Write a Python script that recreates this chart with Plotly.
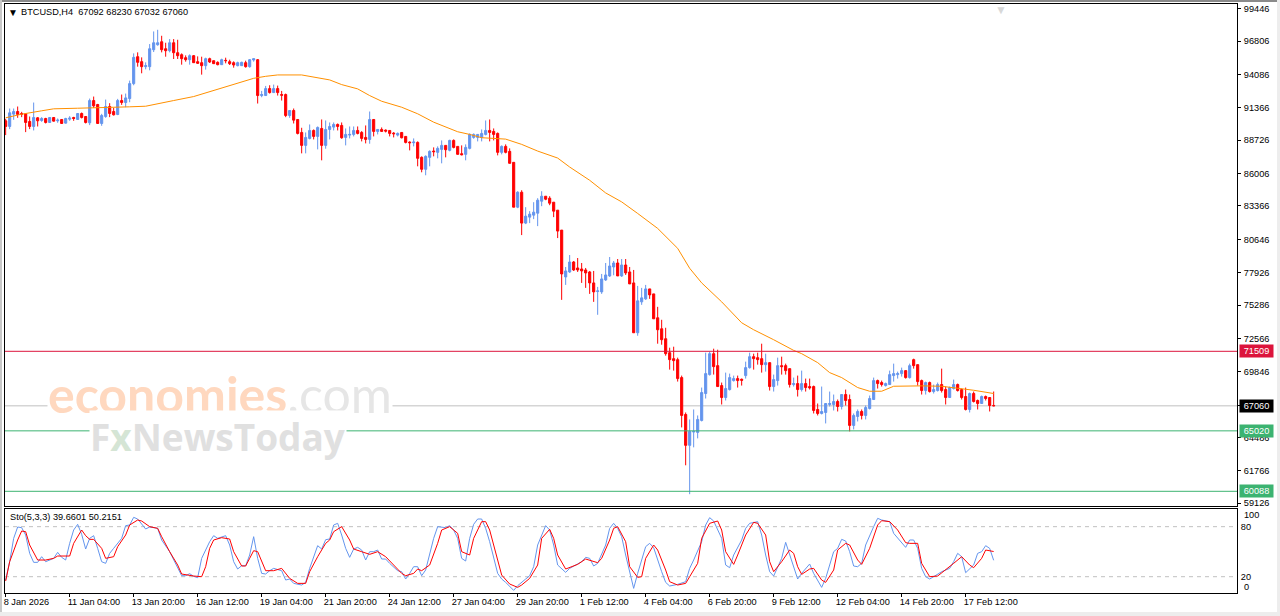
import plotly.graph_objects as go

WIDTH = 1280
HEIGHT = 616

opens = [
    90313, 89852, 90855, 91072, 90909, 90882, 90259, 89852, 90557, 90340,
    90503, 90177, 90584, 90313, 90421, 90123, 90448, 90584, 90421, 90909,
    90665, 90150, 91966, 91641, 90096, 90665, 91478, 91072, 90828, 91966,
    91803, 92129, 93348, 95543, 95137, 94730, 94730, 96112, 96519, 96763,
    96194, 96031, 96681, 95868, 95706, 95462, 95299, 95624, 95137, 95055,
    94811, 95381, 95218, 95082, 94893, 95245, 95137, 95055, 94811, 94811,
    95055, 94730, 95272, 95299, 92373, 92373, 92942, 92616, 92942, 92454,
    92454, 90746, 91153, 90421, 89364, 88308, 88877, 89527, 89039, 89690,
    88308, 89608, 89798, 90015, 89934, 88958, 89148, 89202, 89527, 89364,
    88958, 88795, 90421, 89446, 89608, 89554, 89527, 89310, 89148, 89364,
    89039, 88579, 88524, 88551, 87332, 86356, 87332, 87847, 87738, 87982,
    88308, 87901, 88714, 88226, 87630, 87576, 88064, 88958, 88958, 88958,
    89202, 89527, 89446, 89283, 87738, 88226, 87820, 86925, 83267, 84486,
    81966, 82454, 82617, 82779, 83755, 84161, 83999, 83673, 83023, 81397,
    77576, 77982, 78795, 78308, 78226, 78145, 77982, 77088, 76384, 76356,
    77332, 77657, 78389, 78714, 77657, 78551, 77982, 77088, 73023, 75543,
    75787, 76600, 76194, 74243, 73348, 72535, 71397, 70909, 70828, 69365,
    66357, 63836, 64920, 64893, 65869, 68064, 69609, 71316, 70340, 68714,
    67739, 68389, 69121, 69283, 69229, 69527, 70178, 71072, 70991, 70909,
    70421, 70584, 68633, 69121, 70340, 70340, 70096, 68795, 68877, 68389,
    68877, 68633, 68633, 66763, 66438, 66519, 67170, 67170, 67413, 67007,
    67982, 67576, 65462, 66194, 66600, 66275, 66844, 67576, 69121, 68958,
    68714, 68796, 69527, 69608, 69690, 69934, 69365, 70828, 70421, 69121,
    68308, 68958, 68226, 68308, 68796, 68389, 67739, 68470, 68796, 68389,
    67820, 66763, 68064, 67495, 67251, 67820, 67739, 67092,
]
closes = [
    89852, 90963, 91072, 90828, 90855, 90177, 89852, 90584, 90313, 90503,
    90177, 90584, 90286, 90367, 90096, 90503, 90530, 90503, 90909, 90584,
    90177, 91966, 91532, 90096, 90747, 91478, 90909, 90801, 91966, 91803,
    92183, 93348, 95489, 95082, 94730, 94811, 96194, 96681, 96681, 96112,
    96031, 96681, 95868, 95624, 95381, 95299, 95624, 95055, 95001, 94811,
    95381, 95110, 94974, 94893, 95299, 95218, 94974, 94866, 95055, 95082,
    94730, 95299, 95381, 92373, 92454, 92942, 92616, 92942, 92616, 92400,
    90746, 91153, 90367, 89283, 88308, 88958, 89527, 89039, 89771, 88308,
    89608, 89852, 90015, 89852, 88931, 89202, 89202, 89527, 89283, 88877,
    88795, 90421, 89446, 89608, 89446, 89473, 89283, 89256, 89283, 88931,
    88551, 88524, 88579, 87251, 86356, 87413, 87820, 87793, 88064, 88308,
    87955, 88714, 88145, 87576, 87549, 88145, 89202, 89202, 89202, 89283,
    89527, 89364, 89202, 87738, 88226, 87738, 86844, 83267, 84486, 81966,
    82535, 82698, 82860, 83836, 84161, 83917, 83592, 82942, 81316, 77820,
    78064, 78795, 78145, 78145, 78064, 77901, 77088, 76356, 76438, 77413,
    77739, 78470, 78714, 77657, 78551, 77901, 77007, 73023, 75625, 75869,
    76600, 76112, 74161, 73267, 72454, 71316, 70828, 70747, 69283, 66275,
    63836, 64974, 64974, 65950, 68145, 69690, 71316, 70259, 68633, 67739,
    68470, 69365, 69283, 69121, 69148, 70178, 71072, 70909, 70828, 70421,
    70584, 68633, 69202, 70340, 70259, 69934, 68795, 68877, 68389, 68877,
    68552, 68524, 66682, 66438, 66600, 67251, 67251, 67413, 67007, 67982,
    67495, 65462, 66275, 66600, 66275, 66926, 67657, 69121, 68877, 68796,
    68877, 69608, 69690, 69690, 69934, 69365, 70340, 70340, 69039, 68308,
    68958, 68226, 68389, 68796, 68308, 67739, 68552, 68796, 68308, 67739,
    66763, 68064, 67413, 67251, 67820, 67657, 67088, 67060,
]
highs = [
    90475, 91316, 91316, 91478, 91045, 90936, 90665, 91803, 90611, 90611,
    90557, 90611, 90611, 90503, 90448, 90557, 90692, 90638, 90936, 90990,
    90692, 92129, 92291, 91695, 90882, 92047, 91749, 91370, 92102, 92454,
    92535, 93592, 95814, 95896, 95489, 95082, 96573, 97603, 97738, 97250,
    96681, 96979, 96979, 96925, 95814, 95652, 95733, 95679, 95570, 95543,
    95462, 95462, 95218, 95164, 95381, 95462, 95299, 95164, 95137, 95137,
    95218, 95354, 95381, 95354, 92752, 93158, 93213, 93267, 93185, 92752,
    92535, 91153, 91316, 90448, 89744, 89364, 90015, 89608, 89852, 90421,
    90340, 90177, 90177, 90096, 90177, 89690, 89852, 89852, 89852, 89473,
    89934, 91072, 90421, 89608, 89771, 89608, 89527, 89392, 89364, 89364,
    89039, 88633, 88877, 88633, 87413, 87494, 87901, 88145, 88226, 88714,
    88308, 88768, 88795, 88226, 88308, 88389, 89283, 89283, 89202, 89608,
    90340, 90421, 89690, 89364, 88308, 88389, 88064, 86925, 84568, 84649,
    83267, 82942, 83673, 83999, 84568, 84161, 84161, 83673, 83023, 81397,
    78389, 79364, 78877, 79121, 78714, 78308, 78064, 78064, 76763, 77820,
    78714, 79202, 78877, 79039, 79039, 79039, 78389, 78145, 76844, 76682,
    76925, 76600, 76194, 75137, 74080, 73430, 71804, 71885, 70991, 69527,
    66519, 65950, 66763, 66275, 68552, 71397, 71478, 71722, 71641, 68958,
    69771, 69690, 69527, 69527, 69283, 70665, 71397, 71316, 71397, 72129,
    71316, 70584, 69609, 70991, 71072, 70503, 70096, 69365, 69527, 69934,
    69283, 69283, 68714, 67251, 68633, 67251, 68226, 67982, 67576, 67982,
    68389, 67982, 66438, 66763, 66763, 67088, 67901, 69365, 69202, 69121,
    68958, 69934, 70503, 69852, 70178, 69934, 70503, 70909, 70421, 69202,
    69039, 69039, 68796, 68958, 70096, 68633, 68633, 69202, 68877, 68470,
    68552, 68145, 68226, 67576, 67901, 67901, 67739, 68230,
]
lows = [
    89148, 89635, 90394, 90557, 90611, 89391, 89635, 89527, 89852, 90232,
    90096, 90150, 90259, 90150, 90069, 90096, 90313, 90313, 90394, 90503,
    90096, 89961, 91370, 90069, 89906, 90557, 90611, 90747, 90774, 91614,
    91424, 91830, 93213, 94730, 94188, 94513, 94432, 95923, 96438, 95896,
    95543, 95896, 95354, 95354, 94893, 95137, 94893, 95028, 94947, 94080,
    94486, 95028, 94947, 94839, 94893, 95001, 94866, 94649, 94757, 94784,
    94649, 94649, 95137, 91722, 92237, 92345, 92535, 92589, 92373, 91966,
    90611, 90557, 90096, 89202, 87657, 87657, 88795, 88795, 87982, 87088,
    88036, 88795, 89527, 89527, 88850, 88308, 88877, 89039, 89202, 88633,
    88470, 88443, 89039, 89202, 89419, 89364, 89039, 88958, 89039, 88877,
    88470, 87901, 88226, 86600, 86112, 85869, 86600, 87413, 87251, 86844,
    87332, 87820, 88064, 87576, 87494, 87088, 87982, 88850, 88633, 88633,
    89120, 88633, 88714, 87494, 87576, 87657, 86844, 83267, 83186, 80990,
    81885, 81966, 82291, 81722, 83348, 83836, 83430, 82454, 80747, 75706,
    76925, 77901, 78064, 77982, 77088, 76682, 76194, 75543, 74486, 76194,
    77251, 77576, 77711, 77657, 77576, 77739, 77007, 73023, 72779, 75300,
    75706, 75787, 74161, 72129, 72047, 71153, 70015, 69934, 69040, 65300,
    62210, 59852, 63674, 64405, 65787, 67657, 69527, 69609, 68633, 67170,
    67495, 68308, 69040, 68552, 68714, 69283, 70096, 70015, 70421, 69771,
    69852, 68308, 68226, 68714, 69609, 69609, 68552, 68633, 67820, 68226,
    68226, 68389, 66438, 66275, 66356, 65625, 67007, 66682, 66600, 66763,
    67088, 64974, 65137, 65787, 65950, 65950, 66763, 67576, 68470, 68633,
    68633, 68796, 69039, 69283, 69446, 69283, 69283, 70096, 68714, 67982,
    67982, 68145, 68064, 68226, 68145, 67170, 67739, 68389, 68226, 67576,
    66682, 66519, 67332, 66763, 67251, 67495, 66600, 67032,
]
bars = list(range(len(opens)))

ma_bars = [
    0, 4, 9, 12, 18, 24, 31, 35, 38, 42, 47, 52, 57, 62, 65, 68, 74, 77, 81, 84,
    88, 91, 94, 99, 103, 107, 111, 113, 116, 119, 125, 129, 133, 138, 141, 146,
    150, 154, 158, 163, 168, 171, 174, 179, 184, 187, 192, 197, 199, 203, 206,
    209, 213, 216, 219, 222, 229, 234, 242, 247,
]
ma_values = [
    90559, 90852, 91129, 91291, 91340, 91373, 91454, 91503, 91722, 91966, 92291,
    92779, 93267, 93779, 93942, 94055, 94055, 93893, 93649, 93267, 92917, 92372,
    91909, 91421, 90885, 90202, 89665, 89421, 89202, 88934, 88820, 88389, 87844,
    87275, 86543, 85462, 84429, 83698, 82755, 81535, 79909, 78283, 77090, 75544,
    73836, 73267, 72454, 71584, 71316, 70584, 69771, 69365, 68552, 68251, 68251,
    68657, 68689, 68657, 68332, 68064,
]

sto_main_bars = [
    0, 1, 2, 3, 4, 5, 6, 7, 8, 9, 10, 12, 13, 14, 15, 16, 17, 18, 19, 20, 21, 22,
    23, 24, 25, 26, 27, 29, 30, 31, 32, 33, 35, 36, 38, 39, 41, 43, 44, 45, 46,
    47, 48, 49, 51, 52, 53, 55, 56, 57, 58, 59, 60, 61, 62, 63, 64, 65, 66, 67,
    68, 69, 70, 71, 72, 73, 74, 75, 76, 78, 79, 80, 81, 82, 83, 84, 85, 86, 87,
    88, 89, 90, 91, 92, 93, 94, 95, 96, 98, 99, 100, 101, 102, 103, 104, 105,
    106, 107, 108, 110, 111, 112, 113, 114, 115, 116, 117, 118, 119, 120, 121,
    123, 124, 125, 127, 128, 130, 131, 132, 133, 135, 136, 137, 138, 140, 141,
    144, 145, 146, 147, 148, 150, 151, 152, 153, 154, 155, 156, 157, 158, 159,
    160, 161, 162, 164, 165, 166, 168, 170, 171, 172, 174, 175, 176, 177, 179,
    180, 181, 182, 184, 185, 186, 188, 189, 190, 191, 192, 194, 195, 196, 197,
    198, 199, 201, 202, 203, 204, 205, 207, 208, 209, 210, 211, 212, 213, 214,
    215, 217, 218, 219, 221, 222, 224, 225, 226, 227, 228, 229, 230, 231, 232,
    234, 236, 237, 238, 239, 240, 241, 242, 243, 244, 245, 246, 247,
]
sto_main = [
    16, 38, 66, 79.6, 78.8, 70, 48, 37.2, 37.2, 44, 38, 42, 49.2, 43.2, 40, 60,
    76, 82.8, 70.8, 53.2, 66, 69.2, 54, 38, 36, 48, 54, 66, 81.2, 82, 91.2, 89.2,
    77.2, 79.6, 78, 64, 50, 30, 21.2, 21.2, 23.6, 20.4, 18.8, 42, 62, 69.2, 66,
    69.2, 58, 38, 29.2, 33.2, 33.2, 46, 68, 42, 24, 23.2, 27.2, 30, 28.8, 27.2,
    16, 17.2, 12, 11.2, 10, 13.2, 30, 57.2, 53.2, 64.4, 65.2, 82, 84, 70, 54,
    43.2, 53.2, 55.2, 52, 40, 50, 50, 52, 41.2, 41.2, 36, 27.2, 26, 17.2, 24, 32,
    32, 21.2, 28, 46, 66, 80, 78.8, 81.2, 76, 66, 42, 38.8, 66, 82.8, 89.2, 89.2,
    78, 62, 24, 17.2, 13.2, 3.6, 9.2, 17.2, 21.2, 32, 58, 81.2, 76, 58, 34, 25.2,
    30, 38, 43.2, 42, 32.8, 36, 58, 78, 84, 78, 68, 46, 24, 6, 24, 40, 56, 60,
    54.8, 26, 13.2, 8.8, 10.8, 14, 30, 40, 62, 82, 90.8, 86.8, 66, 34, 30.8, 46,
    64, 78, 84, 86, 70, 46, 26, 20.8, 42, 61.2, 46, 30, 17.2, 24, 35.2, 24, 16,
    7.2, 18, 50, 54, 64.8, 62.8, 50, 32.8, 32, 36, 58, 80, 90, 88, 86, 72, 60,
    55.2, 64, 64, 54, 30, 20, 17.2, 20, 26, 30, 38, 48, 44, 24.8, 30, 34, 48, 50,
    57.2, 54, 39.66,
]
sto_signal_bars = [
    0, 1, 3, 4, 5, 6, 8, 10, 12, 13, 16, 17, 19, 20, 21, 22, 24, 25, 27, 28, 30,
    31, 33, 34, 36, 38, 39, 41, 43, 44, 47, 49, 50, 51, 52, 54, 56, 57, 59, 60,
    61, 62, 63, 65, 67, 69, 71, 73, 75, 76, 78, 80, 81, 82, 84, 86, 87, 88, 89,
    91, 93, 95, 97, 99, 100, 102, 103, 104, 106, 108, 109, 111, 113, 114, 116,
    117, 119, 120, 121, 123, 124, 126, 128, 129, 131, 133, 134, 136, 137, 138,
    140, 143, 145, 148, 149, 151, 152, 153, 155, 156, 158, 159, 160, 162, 163,
    165, 166, 168, 170, 171, 173, 174, 176, 178, 179, 180, 182, 183, 185, 187,
    188, 190, 191, 192, 194, 196, 197, 198, 199, 201, 202, 204, 205, 207, 208,
    210, 211, 213, 214, 216, 218, 219, 221, 223, 225, 226, 228, 229, 231, 233,
    235, 237, 239, 241, 242, 244, 245, 247,
]
sto_signal = [
    14.8, 38, 64, 74.8, 74, 58, 40, 40, 42, 44.8, 44.8, 60, 76, 69.2, 64.8, 64.8,
    54, 42, 44, 56, 70, 82, 88, 86.8, 80, 78, 68, 50, 34, 23.2, 20.8, 20, 32, 54,
    64, 66.8, 65.2, 50, 32.8, 32.8, 42, 51.2, 50, 27.2, 27.2, 30, 18, 12, 12, 26,
    44, 60, 64, 74, 80, 64, 53.2, 52, 50, 46.8, 50, 44, 34, 24, 21.2, 24, 29.2,
    27.2, 34, 60, 76, 80, 72, 50, 46, 66, 86, 86, 76, 38, 22, 11.2, 7.2, 10, 18,
    34, 66, 76.8, 66, 46, 29.2, 34.8, 41.2, 36.8, 42, 64, 78, 80, 62, 32, 19.2,
    20, 42, 58, 52, 28, 14, 10, 12, 20, 36, 66, 84, 86.8, 76, 50, 34.8, 46, 70,
    85.2, 84, 70, 38, 26, 38, 52, 48, 32, 22.8, 29.2, 30, 16, 13.2, 28, 52, 60,
    58, 40, 34.8, 54, 82, 87.2, 86, 76, 60.8, 60, 60, 36, 20, 20.8, 28, 36, 44,
    34, 30.8, 42, 52, 50.22,
]

price_ticks = [
    99446, 96806, 94086, 91366, 88726, 86006, 83366, 80646, 77926, 75286, 72566,
    69846, 67126, 64486, 61766, 59126,
]
time_ticks = list(range(0, 248, 16))
time_labels = [
    "8 Jan 2026", "11 Jan 04:00", "13 Jan 20:00", "16 Jan 12:00", "19 Jan 04:00",
    "21 Jan 20:00", "24 Jan 12:00", "27 Jan 04:00", "29 Jan 20:00", "1 Feb 12:00",
    "4 Feb 04:00", "6 Feb 20:00", "9 Feb 12:00", "12 Feb 04:00", "14 Feb 20:00",
    "17 Feb 12:00",
]
levels = [71509, 67060, 65020, 60088]
level_colors = ["#DC143C", "#C0C0C0", "#3CB371", "#3CB371"]
level_label_colors = ["#DC143C", "#000000", "#3CB371", "#3CB371"]

UI_FONT = "Liberation Sans"
UI_SIZE = 9.2


def px_x(x):
    return x / WIDTH


def px_y(y):
    return 1 - y / HEIGHT


fig = go.Figure()
fig.add_trace(go.Candlestick(
    x=bars, open=opens, high=highs, low=lows, close=closes,
    increasing=dict(line=dict(color="#6495ED", width=1), fillcolor="#6495ED"),
    decreasing=dict(line=dict(color="#FF0000", width=1), fillcolor="#FF0000"),
    whiskerwidth=0, showlegend=False, xaxis="x", yaxis="y",
))
fig.add_trace(go.Scatter(
    x=ma_bars, y=ma_values, mode="lines", line=dict(color="#FF9000", width=1),
    showlegend=False, xaxis="x", yaxis="y",
))
fig.add_trace(go.Scatter(
    x=sto_main_bars, y=sto_main, mode="lines", line=dict(color="#6495ED", width=1),
    showlegend=False, xaxis="x2", yaxis="y2",
))
fig.add_trace(go.Scatter(
    x=sto_signal_bars, y=sto_signal, mode="lines", line=dict(color="#FF0000", width=1),
    showlegend=False, xaxis="x2", yaxis="y2",
))

shapes = []
for level, color in zip(levels, level_colors):
    shapes.append(dict(
        type="line", xref="x domain", x0=0, x1=1, yref="y", y0=level, y1=level,
        line=dict(color=color, width=1),
        layer="below" if color == "#C0C0C0" else "above",
    ))
for level in (80, 20):
    shapes.append(dict(
        type="line", xref="x2 domain", x0=0, x1=1, yref="y2", y0=level, y1=level,
        line=dict(color="#C0C0C0", width=1, dash="4px,4px"), layer="below",
    ))

# window frame around the chart panes
for x0, y0, x1, y1, color in [
    (0, 0, WIDTH, 2, "#8A8A8A"),
    (0, 0, 2, HEIGHT, "#C8C8C8"),
    (0, 612, WIDTH, HEIGHT, "#EDEDED"),
    (1277, 0, WIDTH, HEIGHT, "#EDEDED"),
]:
    shapes.append(dict(
        type="rect", xref="paper", yref="paper", x0=px_x(x0), x1=px_x(x1),
        y0=px_y(y0), y1=px_y(y1), fillcolor=color, line=dict(width=0), layer="above",
    ))

annotations = []


def note(text, x, y, size=UI_SIZE, color="black", family=UI_FONT, xanchor="left", **kw):
    annotations.append(dict(
        text=text, xref="paper", yref="paper", x=px_x(x), y=px_y(y),
        xanchor=xanchor, yanchor="middle", showarrow=False,
        font=dict(family=family, size=size, color=color), **kw,
    ))


note("<b>economies</b><span style='color:#E6E6E6'>.com</span>", 220, 394, size=50,
     color="#FFD8BF", family="Lato", xanchor="center", bgcolor="#FFFFFF", borderpad=0)
note("<b>F<span style='color:#D5E5D5'>x</span>NewsToday</b>", 218, 436, size=37,
     color="#E0E0E0", family="Open Sans", xanchor="center", bgcolor="#FFFFFF", borderpad=0)
note("BTCUSD,H4  67092 68230 67032 67060", 19, 12.5)
note("▼", 6, 12.5, size=10)
note("▼", 1001, 10, size=12, color="#D8D8D8", xanchor="center")
note("Sto(5,3,3) 39.6601 50.2151", 8, 517)
note("100", 1242, 515)
note("0", 1242, 587)

for level, color in zip(levels, level_label_colors):
    annotations.append(dict(
        text=str(level), xref="paper", yref="y", x=px_x(1239), y=level,
        xanchor="left", yanchor="middle", showarrow=False, width=33, height=12,
        align="center", bgcolor=color, borderpad=0,
        font=dict(family=UI_FONT, size=UI_SIZE, color="white"),
    ))

# one bar takes 4 px, bar 0 sits at x = 5.67 px
x_range = [(5 - 5.67) / 4, (1237 - 5.67) / 4]

fig.update_layout(
    width=WIDTH, height=HEIGHT, margin=dict(l=0, r=0, t=0, b=0, autoexpand=False),
    paper_bgcolor="white", plot_bgcolor="white", boxgap=0.25, hovermode=False,
    shapes=shapes, annotations=annotations,
    xaxis=dict(
        domain=[px_x(5), px_x(1237)], range=x_range, anchor="y", automargin=False,
        showgrid=False, zeroline=False, showticklabels=False, ticks="",
        showline=True, linecolor="black", linewidth=1, mirror=True,
        rangeslider=dict(visible=False),
    ),
    yaxis=dict(
        domain=[px_y(506), px_y(4)], range=[58889, 99842], anchor="x", side="right",
        tickmode="array", tickvals=price_ticks, ticktext=[str(t) for t in price_ticks],
        automargin=False, ticklabelstandoff=1,
        showgrid=False, zeroline=False, ticks="outside", ticklen=3, tickcolor="black",
        showline=True, linecolor="black", linewidth=1, mirror=True,
        tickfont=dict(family=UI_FONT, size=UI_SIZE, color="black"),
    ),
    xaxis2=dict(
        domain=[px_x(5), px_x(1237)], range=x_range, anchor="y2", automargin=False,
        tickmode="array", tickvals=time_ticks, ticktext=time_labels, tickangle=0,
        ticklabelposition="outside right", ticklabelshift=-3,
        showgrid=False, zeroline=False, ticks="outside", ticklen=3, tickcolor="black",
        showline=True, linecolor="black", linewidth=1, mirror=True,
        tickfont=dict(family=UI_FONT, size=UI_SIZE, color="black"),
    ),
    yaxis2=dict(
        domain=[px_y(593), px_y(508.5)], range=[0.44, 101.8], anchor="x2", side="right",
        tickmode="array", tickvals=[80, 20], ticktext=["80", "20"], automargin=False,
        ticklabelstandoff=1,
        showgrid=False, zeroline=False, ticks="",
        showline=True, linecolor="black", linewidth=1, mirror=True,
        tickfont=dict(family=UI_FONT, size=UI_SIZE, color="black"),
    ),
)

fig.write_html(
    "out.html",
    config=dict(displayModeBar=False),
    post_script="document.body.style.margin='0';document.body.style.overflow='hidden';",
)
